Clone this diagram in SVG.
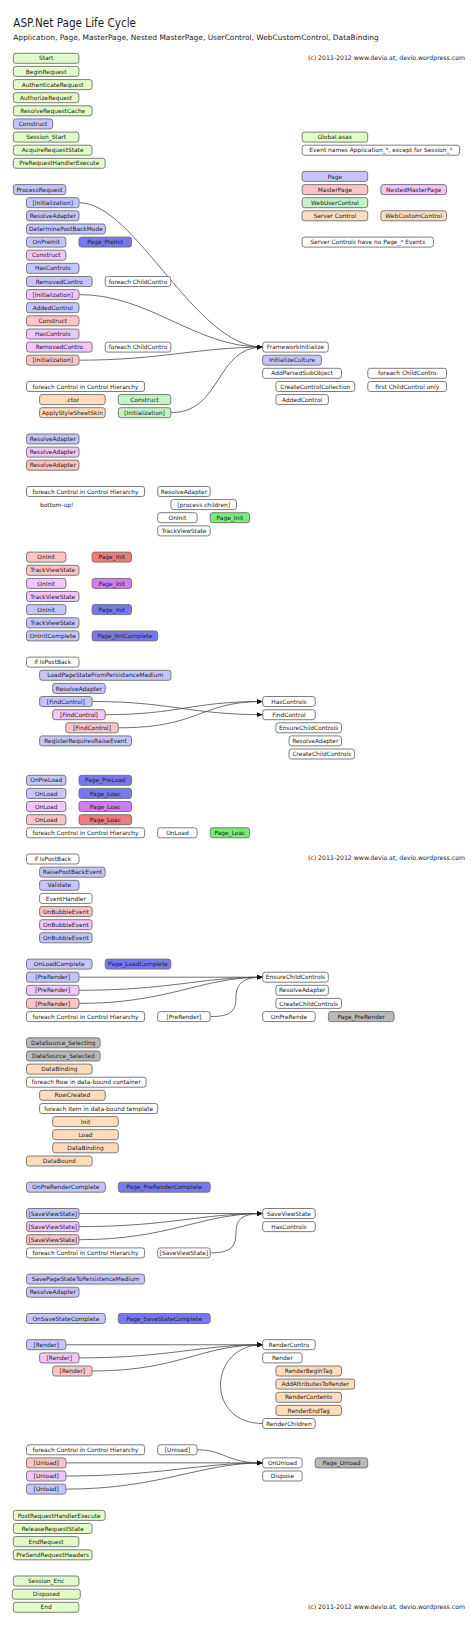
<svg xmlns="http://www.w3.org/2000/svg" width="474" height="1627" viewBox="0 0 474 1627">
<style>
text{font-family:"DejaVu Sans",sans-serif;fill:#1c1c1c}
.t{font-size:5.9px;text-anchor:middle}
rect{stroke:#6e6e6e;stroke-width:0.9}
.g{fill:#e3fbc6}.p{fill:#c5c5fb}.pd{fill:#7878ee}.m{fill:#fcc4c4}.md{fill:#f07a7a}
.n{fill:#f0c6fb}.nd{fill:#d47cee}.u{fill:#c6f3c6}.ud{fill:#77ee77}.s{fill:#fddcbe}.w{fill:#ffffff}.k{fill:#b9b9b9}
.c{fill:none;stroke:#4a4a4a;stroke-width:0.8;marker-end:url(#ah)}
</style>
<defs>
<marker id="ah" markerUnits="userSpaceOnUse" markerWidth="7" markerHeight="6" refX="6" refY="2.5" orient="auto"><path d="M0,0 L6,2.5 L0,5 z" fill="#111"/></marker>
</defs>
<rect x="0" y="0" width="474" height="1627" style="fill:#fff;stroke:none"/>
<g id="header">
<text x="13.3" y="27.3" font-size="11.5" textLength="122.7" lengthAdjust="spacingAndGlyphs">ASP.Net Page Life Cycle</text>
<text x="13.3" y="39.7" font-size="7.4" textLength="365.5" lengthAdjust="spacingAndGlyphs">Application, Page, MasterPage, Nested MasterPage, UserControl, WebCustomControl, DataBinding</text>
<text x="465" y="59.5" font-size="6.2" text-anchor="end">(c) 2011-2012 www.devio.at, devio.wordpress.com</text>
<text x="465" y="860.2" font-size="6.2" text-anchor="end">(c) 2011-2012 www.devio.at, devio.wordpress.com</text>
<text x="465" y="1608.9" font-size="6.2" text-anchor="end">(c) 2011-2012 www.devio.at, devio.wordpress.com</text>
<text x="40" y="506.8" font-size="5.9">bottom-up!</text>
</g>
<g id="connectors">
<path class="c" d="M79.3,202.7 C135,202.7 195,347.1 262.7,347.1"/>
<path class="c" d="M79.3,294.6 C150,294.6 195,347.1 262.7,347.1"/>
<path class="c" d="M79.3,360.2 C160,360.2 200,347.1 262.7,347.1"/>
<path class="c" d="M171.2,412.7 C222,412.7 215,347.1 262.7,347.1"/>
<path class="c" d="M92.4,701.5 C170,701.5 190,714.65 262.7,714.65"/>
<path class="c" d="M105.5,714.65 C180,714.65 190,701.5 262.7,701.5"/>
<path class="c" d="M118.6,727.8 C200,727.8 200,701.5 262.7,701.5"/>
<path class="c" d="M79.3,977.2 L262.7,977.2"/>
<path class="c" d="M79.3,990.3 C170,990.3 200,977.2 262.7,977.2"/>
<path class="c" d="M79.3,1003.4 C170,1003.4 200,977.2 262.7,977.2"/>
<path class="c" d="M210.6,1016.6 C232,1016.6 236,1010 236,997 C236,983 244,977.2 262.7,977.2"/>
<path class="c" d="M79.3,1213.5 L262.7,1213.5"/>
<path class="c" d="M79.3,1226.6 C170,1226.6 200,1213.5 262.7,1213.5"/>
<path class="c" d="M79.3,1239.7 C170,1239.7 200,1213.5 262.7,1213.5"/>
<path class="c" d="M210.2,1252.9 C232,1252.9 236,1246 236,1232 C236,1218 244,1213.5 262.7,1213.5"/>
<path class="c" d="M66.2,1344.75 L262.7,1344.75"/>
<path class="c" d="M79,1357.9 C170,1357.9 200,1344.75 262.7,1344.75"/>
<path class="c" d="M92.1,1371 C180,1371 200,1344.75 262.7,1344.75"/>
<path class="c" d="M262.7,1423.5 C205,1423.5 208,1344.75 262.7,1344.75"/>
<path class="c" d="M197.1,1449.8 C225,1449.8 225,1462.9 262.7,1462.9"/>
<path class="c" d="M65.9,1462.9 L262.7,1462.9"/>
<path class="c" d="M65.9,1476 C160,1476 200,1462.9 262.7,1462.9"/>
<path class="c" d="M65.9,1489.1 C160,1489.1 200,1462.9 262.7,1462.9"/>
</g>
<g id="app-start" transform="translate(13.3,53.3)"><rect class="g" width="65.6" height="10" rx="2.5"/><text class="t" x="32.8" y="7.2">Start</text></g>
<g id="app-beginrequest" transform="translate(13.3,66.4)"><rect class="g" width="65.6" height="10" rx="2.5"/><text class="t" x="32.8" y="7.2">BeginRequest</text></g>
<g id="app-authenticaterequest" transform="translate(13.3,79.6)"><rect class="g" width="78.8" height="10" rx="2.5"/><text class="t" x="39.4" y="7.2">AuthenticateRequest</text></g>
<g id="app-authorizerequest" transform="translate(13.3,92.7)"><rect class="g" width="65.6" height="10" rx="2.5"/><text class="t" x="32.8" y="7.2">AuthorizeRequest</text></g>
<g id="app-resolverequestcache" transform="translate(13.3,105.8)"><rect class="g" width="78.8" height="10" rx="2.5"/><text class="t" x="39.4" y="7.2">ResolveRequestCache</text></g>
<g id="page-construct" transform="translate(13.3,118.9)"><rect class="p" width="39.4" height="10" rx="2.5"/><text class="t" x="19.7" y="7.2">Construct</text></g>
<g id="app-session-start" transform="translate(13.3,132.1)"><rect class="g" width="65.6" height="10" rx="2.5"/><text class="t" x="32.8" y="7.2">Session_Start</text></g>
<g id="app-acquirerequeststate" transform="translate(13.3,145.2)"><rect class="g" width="78.8" height="10" rx="2.5"/><text class="t" x="39.4" y="7.2">AcquireRequestState</text></g>
<g id="app-prerequesthandlerexecute" transform="translate(13.3,158.3)"><rect class="g" width="91.9" height="10" rx="2.5"/><text class="t" x="45.95" y="7.2">PreRequestHandlerExecute</text></g>
<g id="legend-global" transform="translate(302.1,132.1)"><rect class="g" width="65.6" height="10" rx="2.5"/><text class="t" x="32.8" y="7.2">Global.asax</text></g>
<g id="legend-eventnames" transform="translate(302.1,145.2)"><rect class="w" width="157.5" height="10" rx="2.5"/><text class="t" x="78.75" y="7.2">Event names Application_*, except for Session_*</text></g>
<g id="legend-page" transform="translate(302.1,171.4)"><rect class="p" width="65.6" height="10" rx="2.5"/><text class="t" x="32.8" y="7.2">Page</text></g>
<g id="legend-masterpage" transform="translate(302.1,184.6)"><rect class="m" width="65.6" height="10" rx="2.5"/><text class="t" x="32.8" y="7.2">MasterPage</text></g>
<g id="legend-nestedmasterpage" transform="translate(380.9,184.6)"><rect class="n" width="65.6" height="10" rx="2.5"/><text class="t" x="32.8" y="7.2">NestedMasterPage</text></g>
<g id="legend-webusercontrol" transform="translate(302.1,197.7)"><rect class="u" width="65.6" height="10" rx="2.5"/><text class="t" x="32.8" y="7.2">WebUserControl</text></g>
<g id="legend-servercontrol" transform="translate(302.1,210.8)"><rect class="s" width="65.6" height="10" rx="2.5"/><text class="t" x="32.8" y="7.2">Server Control</text></g>
<g id="legend-webcustomcontrol" transform="translate(380.9,210.8)"><rect class="s" width="65.6" height="10" rx="2.5"/><text class="t" x="32.8" y="7.2">WebCustomControl</text></g>
<g id="legend-nopageevents" transform="translate(302.1,237.1)"><rect class="w" width="131.3" height="10" rx="2.5"/><text class="t" x="65.65" y="7.2">Server Controls have no Page_* Events</text></g>
<g id="processrequest" transform="translate(13.3,184.6)"><rect class="p" width="52.5" height="10" rx="2.5"/><text class="t" x="26.25" y="7.2">ProcessRequest</text></g>
<g id="init-page" transform="translate(26.5,197.7)"><rect class="p" width="52.5" height="10" rx="2.5"/><text class="t" x="26.25" y="7.2">[Initialization]</text></g>
<g id="resolveadapter-12" transform="translate(26.5,210.8)"><rect class="p" width="52.5" height="10" rx="2.5"/><text class="t" x="26.25" y="7.2">ResolveAdapter</text></g>
<g id="determinepostbackmode" transform="translate(26.5,224)"><rect class="p" width="78.8" height="10" rx="2.5"/><text class="t" x="39.4" y="7.2">DeterminePostBackMode</text></g>
<g id="onpreinit" transform="translate(26.5,237.1)"><rect class="p" width="39.4" height="10" rx="2.5"/><text class="t" x="19.7" y="7.2">OnPreInit</text></g>
<g id="page-preinit" transform="translate(79,237.1)"><rect class="pd" width="52.5" height="10" rx="2.5"/><text class="t" x="26.25" y="7.2">Page_PreInit</text></g>
<g id="construct-15" transform="translate(26.5,250.2)"><rect class="n" width="39.4" height="10" rx="2.5"/><text class="t" x="19.7" y="7.2">Construct</text></g>
<g id="hascontrols-16" transform="translate(26.5,263.3)"><rect class="p" width="52.5" height="10" rx="2.5"/><text class="t" x="26.25" y="7.2">HasControls</text></g>
<g id="removedcontrol-17" transform="translate(26.5,276.5)"><rect class="p" width="65.6" height="10" rx="2.5"/><text class="t" x="32.8" y="7.2">RemovedContro</text></g>
<g id="foreach-child-17" transform="translate(105.2,276.5)"><rect class="w" width="65.6" height="10" rx="2.5"/><text class="t" x="32.8" y="7.2">foreach ChildContro</text></g>
<g id="init-nested" transform="translate(26.5,289.6)"><rect class="n" width="52.5" height="10" rx="2.5"/><text class="t" x="26.25" y="7.2">[Initialization]</text></g>
<g id="addedcontrol-19" transform="translate(26.5,302.7)"><rect class="p" width="52.5" height="10" rx="2.5"/><text class="t" x="26.25" y="7.2">AddedControl</text></g>
<g id="construct-20" transform="translate(26.5,315.8)"><rect class="m" width="52.5" height="10" rx="2.5"/><text class="t" x="26.25" y="7.2">Construct</text></g>
<g id="hascontrols-21" transform="translate(26.5,329)"><rect class="n" width="52.5" height="10" rx="2.5"/><text class="t" x="26.25" y="7.2">HasControls</text></g>
<g id="removedcontrol-22" transform="translate(26.5,342.1)"><rect class="n" width="65.6" height="10" rx="2.5"/><text class="t" x="32.8" y="7.2">RemovedContro</text></g>
<g id="foreach-child-22" transform="translate(105.2,342.1)"><rect class="w" width="65.6" height="10" rx="2.5"/><text class="t" x="32.8" y="7.2">foreach ChildContro</text></g>
<g id="frameworkinitialize" transform="translate(262.7,342.1)"><rect class="w" width="65.6" height="10" rx="2.5"/><text class="t" x="32.8" y="7.2">FrameworkInitialize</text></g>
<g id="init-master" transform="translate(26.5,355.2)"><rect class="m" width="52.5" height="10" rx="2.5"/><text class="t" x="26.25" y="7.2">[Initialization]</text></g>
<g id="initializeculture" transform="translate(262.7,355.2)"><rect class="p" width="58.7" height="10" rx="2.5"/><text class="t" x="29.35" y="7.2">InitializeCulture</text></g>
<g id="addparsedsubobject" transform="translate(262.7,368.3)"><rect class="w" width="78.8" height="10" rx="2.5"/><text class="t" x="39.4" y="7.2">AddParsedSubObject</text></g>
<g id="foreach-child-24" transform="translate(367.8,368.3)"><rect class="w" width="78.8" height="10" rx="2.5"/><text class="t" x="39.4" y="7.2">foreach ChildContro</text></g>
<g id="foreach-hierarchy-25" transform="translate(26.5,381.5)"><rect class="w" width="118.1" height="10" rx="2.5"/><text class="t" x="59.05" y="7.2">foreach Control in Control Hierarchy</text></g>
<g id="createcontrolcollection" transform="translate(275.9,381.5)"><rect class="w" width="78.8" height="10" rx="2.5"/><text class="t" x="39.4" y="7.2">CreateControlCollection</text></g>
<g id="firstchildcontrolonly" transform="translate(367.8,381.5)"><rect class="w" width="78.8" height="10" rx="2.5"/><text class="t" x="39.4" y="7.2">first ChildControl only</text></g>
<g id="ctor" transform="translate(39.6,394.6)"><rect class="s" width="65.6" height="10" rx="2.5"/><text class="t" x="32.8" y="7.2">.ctor</text></g>
<g id="construct-uc" transform="translate(118.3,394.6)"><rect class="u" width="52.5" height="10" rx="2.5"/><text class="t" x="26.25" y="7.2">Construct</text></g>
<g id="addedcontrol-26" transform="translate(275.9,394.6)"><rect class="w" width="52.5" height="10" rx="2.5"/><text class="t" x="26.25" y="7.2">AddedControl</text></g>
<g id="applystylesheetskin" transform="translate(39.6,407.7)"><rect class="s" width="65.6" height="10" rx="2.5"/><text class="t" x="32.8" y="7.2">ApplyStyleSheetSkin</text></g>
<g id="init-uc" transform="translate(118.3,407.7)"><rect class="u" width="52.5" height="10" rx="2.5"/><text class="t" x="26.25" y="7.2">[Initialization]</text></g>
<g id="resolveadapter-29" transform="translate(26.5,434)"><rect class="p" width="52.5" height="10" rx="2.5"/><text class="t" x="26.25" y="7.2">ResolveAdapter</text></g>
<g id="resolveadapter-30" transform="translate(26.5,447.1)"><rect class="n" width="52.5" height="10" rx="2.5"/><text class="t" x="26.25" y="7.2">ResolveAdapter</text></g>
<g id="resolveadapter-31" transform="translate(26.5,460.2)"><rect class="m" width="52.5" height="10" rx="2.5"/><text class="t" x="26.25" y="7.2">ResolveAdapter</text></g>
<g id="foreach-hierarchy-33" transform="translate(26.5,486.5)"><rect class="w" width="118.1" height="10" rx="2.5"/><text class="t" x="59.05" y="7.2">foreach Control in Control Hierarchy</text></g>
<g id="resolveadapter-33" transform="translate(157.7,486.5)"><rect class="w" width="52.5" height="10" rx="2.5"/><text class="t" x="26.25" y="7.2">ResolveAdapter</text></g>
<g id="processchildren" transform="translate(170.9,499.6)"><rect class="w" width="65.6" height="10" rx="2.5"/><text class="t" x="32.8" y="7.2">[process children]</text></g>
<g id="oninit-35" transform="translate(157.7,512.7)"><rect class="w" width="39.4" height="10" rx="2.5"/><text class="t" x="19.7" y="7.2">OnInit</text></g>
<g id="page-init-uc" transform="translate(210.2,512.7)"><rect class="ud" width="39.4" height="10" rx="2.5"/><text class="t" x="19.7" y="7.2">Page_Init</text></g>
<g id="trackviewstate-36" transform="translate(157.7,525.9)"><rect class="w" width="52.5" height="10" rx="2.5"/><text class="t" x="26.25" y="7.2">TrackViewState</text></g>
<g id="oninit-38" transform="translate(26.5,552.1)"><rect class="m" width="39.4" height="10" rx="2.5"/><text class="t" x="19.7" y="7.2">OnInit</text></g>
<g id="page-init-master" transform="translate(92.1,552.1)"><rect class="md" width="39.4" height="10" rx="2.5"/><text class="t" x="19.7" y="7.2">Page_Init</text></g>
<g id="trackviewstate-39" transform="translate(26.5,565.3)"><rect class="m" width="52.5" height="10" rx="2.5"/><text class="t" x="26.25" y="7.2">TrackViewState</text></g>
<g id="oninit-40" transform="translate(26.5,578.4)"><rect class="n" width="39.4" height="10" rx="2.5"/><text class="t" x="19.7" y="7.2">OnInit</text></g>
<g id="page-init-nested" transform="translate(92.1,578.4)"><rect class="nd" width="39.4" height="10" rx="2.5"/><text class="t" x="19.7" y="7.2">Page_Init</text></g>
<g id="trackviewstate-41" transform="translate(26.5,591.5)"><rect class="n" width="52.5" height="10" rx="2.5"/><text class="t" x="26.25" y="7.2">TrackViewState</text></g>
<g id="oninit-42" transform="translate(26.5,604.6)"><rect class="p" width="39.4" height="10" rx="2.5"/><text class="t" x="19.7" y="7.2">OnInit</text></g>
<g id="page-init-page" transform="translate(92.1,604.6)"><rect class="pd" width="39.4" height="10" rx="2.5"/><text class="t" x="19.7" y="7.2">Page_Init</text></g>
<g id="trackviewstate-43" transform="translate(26.5,617.8)"><rect class="p" width="52.5" height="10" rx="2.5"/><text class="t" x="26.25" y="7.2">TrackViewState</text></g>
<g id="oninitcomplete" transform="translate(26.5,630.9)"><rect class="p" width="52.5" height="10" rx="2.5"/><text class="t" x="26.25" y="7.2">OnInitComplete</text></g>
<g id="page-initcomplete" transform="translate(92.1,630.9)"><rect class="pd" width="65.6" height="10" rx="2.5"/><text class="t" x="32.8" y="7.2">Page_InitComplete</text></g>
<g id="ifpostback-46" transform="translate(26.5,657.1)"><rect class="w" width="52.5" height="10" rx="2.5"/><text class="t" x="26.25" y="7.2">if IsPostBack</text></g>
<g id="loadpagestate" transform="translate(39.6,670.3)"><rect class="p" width="131.3" height="10" rx="2.5"/><text class="t" x="65.65" y="7.2">LoadPageStateFromPersistenceMedium</text></g>
<g id="resolveadapter-48" transform="translate(52.7,683.4)"><rect class="p" width="52.5" height="10" rx="2.5"/><text class="t" x="26.25" y="7.2">ResolveAdapter</text></g>
<g id="findcontrol-page" transform="translate(39.6,696.5)"><rect class="p" width="52.5" height="10" rx="2.5"/><text class="t" x="26.25" y="7.2">[FindControl]</text></g>
<g id="hascontrols-49" transform="translate(262.7,696.5)"><rect class="w" width="52.5" height="10" rx="2.5"/><text class="t" x="26.25" y="7.2">HasControls</text></g>
<g id="findcontrol-nested" transform="translate(52.7,709.7)"><rect class="n" width="52.5" height="10" rx="2.5"/><text class="t" x="26.25" y="7.2">[FindControl]</text></g>
<g id="findcontrol-50" transform="translate(262.7,709.7)"><rect class="w" width="52.5" height="10" rx="2.5"/><text class="t" x="26.25" y="7.2">FindControl</text></g>
<g id="findcontrol-master" transform="translate(65.8,722.8)"><rect class="m" width="52.5" height="10" rx="2.5"/><text class="t" x="26.25" y="7.2">[FindControl]</text></g>
<g id="ensurechildcontrols-51" transform="translate(275.9,722.8)"><rect class="w" width="65.6" height="10" rx="2.5"/><text class="t" x="32.8" y="7.2">EnsureChildControls</text></g>
<g id="registerrequiresraiseevent" transform="translate(39.6,735.9)"><rect class="p" width="91.9" height="10" rx="2.5"/><text class="t" x="45.95" y="7.2">RegisterRequiresRaiseEvent</text></g>
<g id="resolveadapter-52" transform="translate(289,735.9)"><rect class="w" width="52.5" height="10" rx="2.5"/><text class="t" x="26.25" y="7.2">ResolveAdapter</text></g>
<g id="createchildcontrols-53" transform="translate(289,749)"><rect class="w" width="65.6" height="10" rx="2.5"/><text class="t" x="32.8" y="7.2">CreateChildControls</text></g>
<g id="onpreload" transform="translate(26.5,775.3)"><rect class="p" width="39.4" height="10" rx="2.5"/><text class="t" x="19.7" y="7.2">OnPreLoad</text></g>
<g id="page-preload" transform="translate(79,775.3)"><rect class="pd" width="52.5" height="10" rx="2.5"/><text class="t" x="26.25" y="7.2">Page_PreLoad</text></g>
<g id="onload-56" transform="translate(26.5,788.4)"><rect class="p" width="39.4" height="10" rx="2.5"/><text class="t" x="19.7" y="7.2">OnLoad</text></g>
<g id="page-load-page" transform="translate(79,788.4)"><rect class="pd" width="52.5" height="10" rx="2.5"/><text class="t" x="26.25" y="7.2">Page_Loac</text></g>
<g id="onload-57" transform="translate(26.5,801.5)"><rect class="n" width="39.4" height="10" rx="2.5"/><text class="t" x="19.7" y="7.2">OnLoad</text></g>
<g id="page-load-nested" transform="translate(79,801.5)"><rect class="nd" width="52.5" height="10" rx="2.5"/><text class="t" x="26.25" y="7.2">Page_Loac</text></g>
<g id="onload-58" transform="translate(26.5,814.7)"><rect class="m" width="39.4" height="10" rx="2.5"/><text class="t" x="19.7" y="7.2">OnLoad</text></g>
<g id="page-load-master" transform="translate(79,814.7)"><rect class="md" width="52.5" height="10" rx="2.5"/><text class="t" x="26.25" y="7.2">Page_Loac</text></g>
<g id="foreach-hierarchy-59" transform="translate(26.5,827.8)"><rect class="w" width="118.1" height="10" rx="2.5"/><text class="t" x="59.05" y="7.2">foreach Control in Control Hierarchy</text></g>
<g id="onload-59" transform="translate(157.7,827.8)"><rect class="w" width="39.4" height="10" rx="2.5"/><text class="t" x="19.7" y="7.2">OnLoad</text></g>
<g id="page-load-uc" transform="translate(210.2,827.8)"><rect class="ud" width="39.4" height="10" rx="2.5"/><text class="t" x="19.7" y="7.2">Page_Loac</text></g>
<g id="ifpostback-61" transform="translate(26.5,854)"><rect class="w" width="52.5" height="10" rx="2.5"/><text class="t" x="26.25" y="7.2">if IsPostBack</text></g>
<g id="raisepostbackevent" transform="translate(39.6,867.2)"><rect class="p" width="65.6" height="10" rx="2.5"/><text class="t" x="32.8" y="7.2">RaisePostBackEvent</text></g>
<g id="validate" transform="translate(39.6,880.3)"><rect class="p" width="39.4" height="10" rx="2.5"/><text class="t" x="19.7" y="7.2">Validate</text></g>
<g id="eventhandler" transform="translate(39.6,893.4)"><rect class="w" width="52.5" height="10" rx="2.5"/><text class="t" x="26.25" y="7.2">EventHandler</text></g>
<g id="onbubbleevent-master" transform="translate(39.6,906.6)"><rect class="m" width="52.5" height="10" rx="2.5"/><text class="t" x="26.25" y="7.2">OnBubbleEvent</text></g>
<g id="onbubbleevent-nested" transform="translate(39.6,919.7)"><rect class="n" width="52.5" height="10" rx="2.5"/><text class="t" x="26.25" y="7.2">OnBubbleEvent</text></g>
<g id="onbubbleevent-page" transform="translate(39.6,932.8)"><rect class="p" width="52.5" height="10" rx="2.5"/><text class="t" x="26.25" y="7.2">OnBubbleEvent</text></g>
<g id="onloadcomplete" transform="translate(26.5,959.1)"><rect class="p" width="65.6" height="10" rx="2.5"/><text class="t" x="32.8" y="7.2">OnLoadComplete</text></g>
<g id="page-loadcomplete" transform="translate(105.2,959.1)"><rect class="pd" width="65.6" height="10" rx="2.5"/><text class="t" x="32.8" y="7.2">Page_LoadComplete</text></g>
<g id="prerender-page" transform="translate(26.5,972.2)"><rect class="p" width="52.5" height="10" rx="2.5"/><text class="t" x="26.25" y="7.2">[PreRender]</text></g>
<g id="ensurechildcontrols-70" transform="translate(262.7,972.2)"><rect class="w" width="65.6" height="10" rx="2.5"/><text class="t" x="32.8" y="7.2">EnsureChildControls</text></g>
<g id="prerender-nested" transform="translate(26.5,985.3)"><rect class="n" width="52.5" height="10" rx="2.5"/><text class="t" x="26.25" y="7.2">[PreRender]</text></g>
<g id="resolveadapter-71" transform="translate(275.9,985.3)"><rect class="w" width="52.5" height="10" rx="2.5"/><text class="t" x="26.25" y="7.2">ResolveAdapter</text></g>
<g id="prerender-master" transform="translate(26.5,998.4)"><rect class="m" width="52.5" height="10" rx="2.5"/><text class="t" x="26.25" y="7.2">[PreRender]</text></g>
<g id="createchildcontrols-72" transform="translate(275.9,998.4)"><rect class="w" width="65.6" height="10" rx="2.5"/><text class="t" x="32.8" y="7.2">CreateChildControls</text></g>
<g id="foreach-hierarchy-73" transform="translate(26.5,1011.6)"><rect class="w" width="118.1" height="10" rx="2.5"/><text class="t" x="59.05" y="7.2">foreach Control in Control Hierarchy</text></g>
<g id="prerender-control" transform="translate(157.7,1011.6)"><rect class="w" width="52.5" height="10" rx="2.5"/><text class="t" x="26.25" y="7.2">[PreRender]</text></g>
<g id="onprerender" transform="translate(262.7,1011.6)"><rect class="w" width="52.5" height="10" rx="2.5"/><text class="t" x="26.25" y="7.2">OnPreRende</text></g>
<g id="page-prerender" transform="translate(328.4,1011.6)"><rect class="k" width="65.6" height="10" rx="2.5"/><text class="t" x="32.8" y="7.2">Page_PreRender</text></g>
<g id="datasource-selecting" transform="translate(26.5,1037.8)"><rect class="k" width="73.6" height="10" rx="2.5"/><text class="t" x="36.8" y="7.2">DataSource_Selecting</text></g>
<g id="datasource-selected" transform="translate(26.5,1051)"><rect class="k" width="73.6" height="10" rx="2.5"/><text class="t" x="36.8" y="7.2">DataSource_Selected</text></g>
<g id="databinding-77" transform="translate(26.5,1064.1)"><rect class="s" width="65.6" height="10" rx="2.5"/><text class="t" x="32.8" y="7.2">DataBinding</text></g>
<g id="foreach-row" transform="translate(26.5,1077.2)"><rect class="w" width="119.6" height="10" rx="2.5"/><text class="t" x="59.8" y="7.2">foreach Row in data-bound container</text></g>
<g id="rowcreated" transform="translate(39.6,1090.3)"><rect class="s" width="65.6" height="10" rx="2.5"/><text class="t" x="32.8" y="7.2">RowCreated</text></g>
<g id="foreach-item" transform="translate(39.6,1103.5)"><rect class="w" width="118.1" height="10" rx="2.5"/><text class="t" x="59.05" y="7.2">foreach Item in data-bound template</text></g>
<g id="item-init" transform="translate(52.7,1116.6)"><rect class="s" width="65.6" height="10" rx="2.5"/><text class="t" x="32.8" y="7.2">Init</text></g>
<g id="item-load" transform="translate(52.7,1129.7)"><rect class="s" width="65.6" height="10" rx="2.5"/><text class="t" x="32.8" y="7.2">Load</text></g>
<g id="item-databinding" transform="translate(52.7,1142.8)"><rect class="s" width="65.6" height="10" rx="2.5"/><text class="t" x="32.8" y="7.2">DataBinding</text></g>
<g id="databound" transform="translate(26.5,1156)"><rect class="s" width="65.6" height="10" rx="2.5"/><text class="t" x="32.8" y="7.2">DataBound</text></g>
<g id="onprerendercomplete" transform="translate(26.5,1182.2)"><rect class="p" width="78.8" height="10" rx="2.5"/><text class="t" x="39.4" y="7.2">OnPreRenderComplete</text></g>
<g id="page-prerendercomplete" transform="translate(118.3,1182.2)"><rect class="pd" width="91.9" height="10" rx="2.5"/><text class="t" x="45.95" y="7.2">Page_PreRenderComplete</text></g>
<g id="saveviewstate-page" transform="translate(26.5,1208.5)"><rect class="p" width="52.5" height="10" rx="2.5"/><text class="t" x="26.25" y="7.2">[SaveViewState]</text></g>
<g id="saveviewstate-88" transform="translate(262.7,1208.5)"><rect class="w" width="52.5" height="10" rx="2.5"/><text class="t" x="26.25" y="7.2">SaveViewState</text></g>
<g id="saveviewstate-nested" transform="translate(26.5,1221.6)"><rect class="n" width="52.5" height="10" rx="2.5"/><text class="t" x="26.25" y="7.2">[SaveViewState]</text></g>
<g id="hascontrols-89" transform="translate(262.7,1221.6)"><rect class="w" width="52.5" height="10" rx="2.5"/><text class="t" x="26.25" y="7.2">HasControls</text></g>
<g id="saveviewstate-master" transform="translate(26.5,1234.7)"><rect class="m" width="52.5" height="10" rx="2.5"/><text class="t" x="26.25" y="7.2">[SaveViewState]</text></g>
<g id="foreach-hierarchy-91" transform="translate(26.5,1247.9)"><rect class="w" width="118.1" height="10" rx="2.5"/><text class="t" x="59.05" y="7.2">foreach Control in Control Hierarchy</text></g>
<g id="saveviewstate-control" transform="translate(157.7,1247.9)"><rect class="w" width="52.5" height="10" rx="2.5"/><text class="t" x="26.25" y="7.2">[SaveViewState]</text></g>
<g id="savepagestate" transform="translate(26.5,1274.1)"><rect class="p" width="118.1" height="10" rx="2.5"/><text class="t" x="59.05" y="7.2">SavePageStateToPersistenceMedium</text></g>
<g id="resolveadapter-94" transform="translate(26.5,1287.2)"><rect class="p" width="52.5" height="10" rx="2.5"/><text class="t" x="26.25" y="7.2">ResolveAdapter</text></g>
<g id="onsavestatecomplete" transform="translate(26.5,1313.5)"><rect class="p" width="78.8" height="10" rx="2.5"/><text class="t" x="39.4" y="7.2">OnSaveStateComplete</text></g>
<g id="page-savestatecomplete" transform="translate(118.3,1313.5)"><rect class="pd" width="91.9" height="10" rx="2.5"/><text class="t" x="45.95" y="7.2">Page_SaveStateComplete</text></g>
<g id="render-page" transform="translate(26.5,1339.7)"><rect class="p" width="39.4" height="10" rx="2.5"/><text class="t" x="19.7" y="7.2">[Render]</text></g>
<g id="rendercontrol" transform="translate(262.7,1339.7)"><rect class="w" width="52.5" height="10" rx="2.5"/><text class="t" x="26.25" y="7.2">RenderContro</text></g>
<g id="render-nested" transform="translate(39.6,1352.9)"><rect class="n" width="39.4" height="10" rx="2.5"/><text class="t" x="19.7" y="7.2">[Render]</text></g>
<g id="render" transform="translate(262.7,1352.9)"><rect class="w" width="39.4" height="10" rx="2.5"/><text class="t" x="19.7" y="7.2">Render</text></g>
<g id="render-master" transform="translate(52.7,1366)"><rect class="m" width="39.4" height="10" rx="2.5"/><text class="t" x="19.7" y="7.2">[Render]</text></g>
<g id="renderbegintag" transform="translate(275.9,1366)"><rect class="s" width="65.6" height="10" rx="2.5"/><text class="t" x="32.8" y="7.2">RenderBeginTag</text></g>
<g id="addattributestorender" transform="translate(275.9,1379.1)"><rect class="s" width="78.8" height="10" rx="2.5"/><text class="t" x="39.4" y="7.2">AddAttributesToRender</text></g>
<g id="rendercontents" transform="translate(275.9,1392.3)"><rect class="s" width="65.6" height="10" rx="2.5"/><text class="t" x="32.8" y="7.2">RenderContents</text></g>
<g id="renderendtag" transform="translate(275.9,1405.4)"><rect class="s" width="65.6" height="10" rx="2.5"/><text class="t" x="32.8" y="7.2">RenderEndTag</text></g>
<g id="renderchildren" transform="translate(262.7,1418.5)"><rect class="w" width="52.5" height="10" rx="2.5"/><text class="t" x="26.25" y="7.2">RenderChildren</text></g>
<g id="foreach-hierarchy-106" transform="translate(26.5,1444.8)"><rect class="w" width="118.1" height="10" rx="2.5"/><text class="t" x="59.05" y="7.2">foreach Control in Control Hierarchy</text></g>
<g id="unload-control" transform="translate(157.7,1444.8)"><rect class="w" width="39.4" height="10" rx="2.5"/><text class="t" x="19.7" y="7.2">[Unload]</text></g>
<g id="unload-master" transform="translate(26.5,1457.9)"><rect class="m" width="39.4" height="10" rx="2.5"/><text class="t" x="19.7" y="7.2">[Unload]</text></g>
<g id="onunload" transform="translate(262.7,1457.9)"><rect class="w" width="39.4" height="10" rx="2.5"/><text class="t" x="19.7" y="7.2">OnUnload</text></g>
<g id="page-unload" transform="translate(315.2,1457.9)"><rect class="k" width="52.5" height="10" rx="2.5"/><text class="t" x="26.25" y="7.2">Page_Unload</text></g>
<g id="unload-nested" transform="translate(26.5,1471)"><rect class="n" width="39.4" height="10" rx="2.5"/><text class="t" x="19.7" y="7.2">[Unload]</text></g>
<g id="dispose" transform="translate(262.7,1471)"><rect class="w" width="39.4" height="10" rx="2.5"/><text class="t" x="19.7" y="7.2">Dispose</text></g>
<g id="unload-page" transform="translate(26.5,1484.1)"><rect class="p" width="39.4" height="10" rx="2.5"/><text class="t" x="19.7" y="7.2">[Unload]</text></g>
<g id="app-postrequesthandlerexecute" transform="translate(13.3,1510.4)"><rect class="g" width="91.9" height="10" rx="2.5"/><text class="t" x="45.95" y="7.2">PostRequestHandlerExecute</text></g>
<g id="app-releaserequeststate" transform="translate(13.3,1523.5)"><rect class="g" width="78.8" height="10" rx="2.5"/><text class="t" x="39.4" y="7.2">ReleaseRequestState</text></g>
<g id="app-endrequest" transform="translate(13.3,1536.6)"><rect class="g" width="65.6" height="10" rx="2.5"/><text class="t" x="32.8" y="7.2">EndRequest</text></g>
<g id="app-presendrequestheaders" transform="translate(13.3,1549.8)"><rect class="g" width="78.8" height="10" rx="2.5"/><text class="t" x="39.4" y="7.2">PreSendRequestHeaders</text></g>
<g id="app-session-end" transform="translate(13.3,1576)"><rect class="g" width="65.6" height="10" rx="2.5"/><text class="t" x="32.8" y="7.2">Session_Enc</text></g>
<g id="app-disposed" transform="translate(12.3,1589.2)"><rect class="g" width="68" height="10" rx="2.5"/><text class="t" x="34" y="7.2">Disposed</text></g>
<g id="app-end" transform="translate(13.3,1602.3)"><rect class="g" width="65.6" height="10" rx="2.5"/><text class="t" x="32.8" y="7.2">End</text></g>
</svg>
